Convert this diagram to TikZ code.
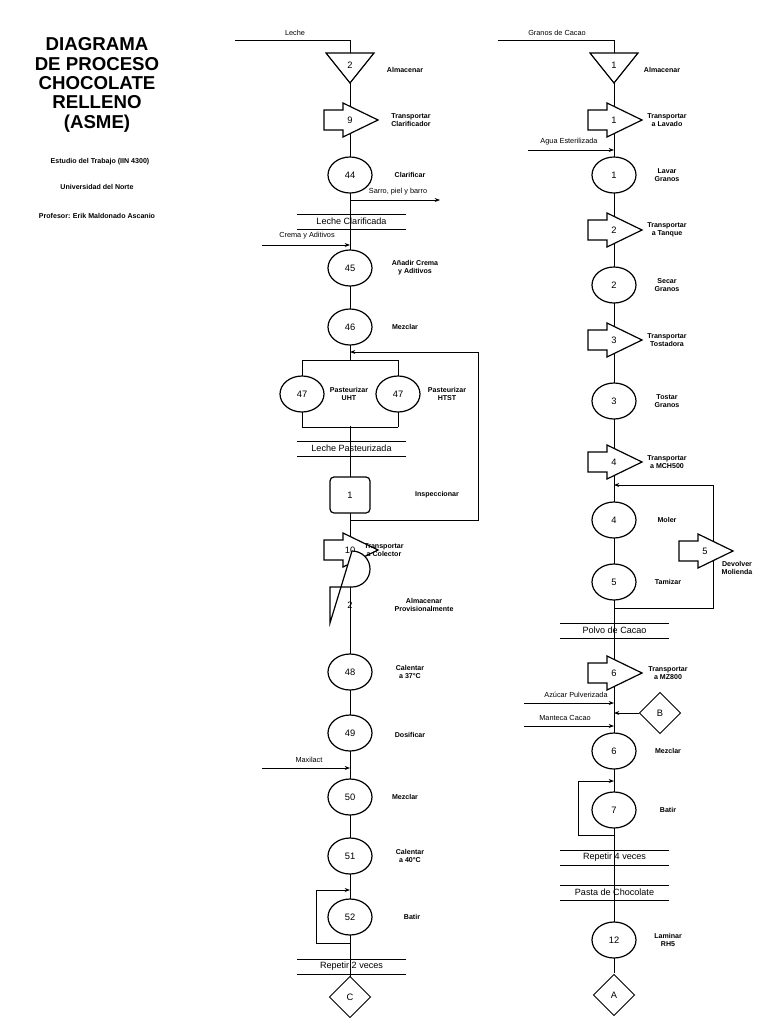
\documentclass[tikz,border=0pt]{standalone}
\usepackage{fontspec}
\setmainfont{Liberation Sans}
\usetikzlibrary{shapes.geometric,arrows.meta}
\tikzset{
 proc/.style={ellipse,draw,fill=white,line width=0.9pt,minimum width=33pt,minimum height=27pt,inner sep=0pt,font=\fontsize{7}{8}\selectfont},
 insp/.style={rectangle,rounded corners=3pt,draw,fill=white,line width=0.9pt,minimum width=30pt,minimum height=27pt,font=\fontsize{7}{8}\selectfont},
 dia/.style={diamond,draw,fill=white,line width=0.7pt,minimum width=31pt,minimum height=31pt,inner sep=0pt,font=\fontsize{7}{8}\selectfont},
 lbl/.style={font=\bfseries\fontsize{5.3}{6.2}\selectfont,align=center,inner sep=0pt},
 flow/.style={font=\fontsize{5.5}{6.5}\selectfont,inner sep=0pt},
 mat/.style={font=\fontsize{6.8}{8}\selectfont,inner sep=0pt},
 num/.style={font=\fontsize{7}{8}\selectfont,inner sep=0pt},
 ln/.style={line width=0.6pt},
 arr/.style={line width=0.6pt,-{Stealth[length=4pt,width=3pt]}},
}
\newcommand\Transp[4]{%
 \draw[line width=0.9pt,fill=white,shift={(#2,#3)}] (-26,-10) -- (-7,-10) -- (-7,-17) -- (28,0) -- (-7,17) -- (-7,10) -- (-26,10) -- cycle;
 \node[num] (#1) at (#2,#3) {#4};}
\newcommand\Store[4]{%
 \draw[line width=0.9pt,fill=white,shift={(#2,#3)}] (-24,-15) -- (24,-15) -- (0,15) -- cycle;
 \node[num] (#1) at (#2,#3-3) {#4};}
\newcommand\Matl[4]{%
 \draw[ln] (#1,#2) -- (#1+109,#2) (#1,#2+15) -- (#1+109,#2+15);
 \node[mat] (#3) at (#1+54.5,#2+7.5) {#4};}
\begin{document}
\begin{tikzpicture}[x=0.75pt,y=-0.75pt]
\useasboundingbox (0,0) rectangle (768,1024);
% title
\node[font=\bfseries\fontsize{14}{14.5}\selectfont,align=center] (title) at (97,85) {DIAGRAMA\\DE PROCESO\\CHOCOLATE\\RELLENO\\(ASME)};
\node[lbl] (t1) at (100,162) {Estudio del Trabajo (IIN 4300)};
\node[lbl] (t2) at (97,187) {Universidad del Norte};
\node[lbl] (t3) at (97,216) {Profesor: Erik Maldonado Ascanio};
% ===== left column
\coordinate (l0) at (235,40);
\coordinate (lc) at (350,40);
\coordinate (lend) at (350,977);
\draw[ln] (l0) -- (lc) -- (lend);
\node[flow] at (295,33) {Leche};
\Store{s2}{350}{68}{2}
\node[lbl] at (405,70) {Almacenar};
\Transp{t9}{350}{120}{9}
\node[lbl] at (411,120) {Transportar\\Clarificador};
\node[proc] (c44) at (350,175) {44};
\node[lbl] at (410,175) {Clarificar};
\coordinate (sb) at (350,200); \coordinate (se) at (440,200);
\draw[arr] (sb) -- (se);
\node[flow] at (398,192) {Sarro, piel y barro};
\Matl{297}{214}{m1}{Leche Clarificada}
\coordinate (ca0) at (262,245); \coordinate (ca1) at (350,245);
\draw[arr] (ca0) -- (ca1);
\node[flow] at (307,236) {Crema y Aditivos};
\node[proc] (c45) at (350,268) {45};
\node[lbl] at (415,268) {Añadir Crema\\y Aditivos};
\node[proc] (c46) at (350,327) {46};
\node[lbl] at (405,327) {Mezclar};
% split
\coordinate (sp1) at (302,360); \coordinate (sp2) at (398,360);
\coordinate (mg1) at (302,427); \coordinate (mg2) at (398,427);
\draw[ln] (sp1) -- (sp2) (mg1) -- (mg2) (sp1) -- (mg1) (sp2) -- (mg2);
\draw[fill=white,draw=none] (330,361) rectangle (370,426);
\node[proc] (c47a) at (302,394) {47};
\node[proc] (c47b) at (398,394) {47};
\node[lbl] at (349,394) {Pasteurizar\\UHT};
\node[lbl] at (447,394) {Pasteurizar\\HTST};
\Matl{297}{441}{m2}{Leche Pasteurizada}
\node[insp] (i1) at (350,495) {1};
\node[lbl] at (437,495) {Inspeccionar};
\coordinate (r0) at (350,520); \coordinate (r1) at (478,520);
\coordinate (r2) at (478,352); \coordinate (r3) at (350,352);
\draw[ln] (r0) -- (r1) -- (r2);
\draw[arr] (r2) -- (r3);
\Transp{t10}{350}{550}{10}
\node[lbl] at (384,550) {Transportar\\a Colector};
\draw[line width=0.9pt,fill=white] (330,587) -- (352,587) arc[start angle=90,end angle=-90,radius=18] -- (330,623) -- cycle;
\node[num] (d2) at (350,605) {2};
\node[lbl] at (424,605) {Almacenar\\Provisionalmente};
\node[proc] (c48) at (350,672) {48};
\node[lbl] at (410,672) {Calentar\\a 37°C};
\node[proc] (c49) at (350,733) {49};
\node[lbl] at (410,735) {Dosificar};
\coordinate (mx0) at (262,768); \coordinate (mx1) at (350,768);
\draw[arr] (mx0) -- (mx1);
\node[flow] at (309,760) {Maxilact};
\node[proc] (c50) at (350,797) {50};
\node[lbl] at (405,797) {Mezclar};
\node[proc] (c51) at (350,856) {51};
\node[lbl] at (410,856) {Calentar\\a 40°C};
\coordinate (b0) at (350,943); \coordinate (b1) at (316,943);
\coordinate (b2) at (316,890); \coordinate (b3) at (350,890);
\draw[ln] (b0) -- (b1) -- (b2); \draw[arr] (b2) -- (b3);
\node[proc] (c52) at (350,917) {52};
\node[lbl] at (412,917) {Batir};
\Matl{297}{959}{m3}{Repetir 2 veces}
\node[dia] (dC) at (350,997) {C};
% ===== right column
\coordinate (g0) at (498,40); \coordinate (gc) at (614,40); \coordinate (gend) at (614,973);
\draw[ln] (g0) -- (gc) -- (gend);
\node[flow] at (557,33) {Granos de Cacao};
\Store{s1}{614}{68}{1}
\node[lbl] at (662,70) {Almacenar};
\Transp{tr1}{614}{120}{1}
\node[lbl] at (667,120) {Transportar\\a Lavado};
\coordinate (ag0) at (528,150); \coordinate (ag1) at (614,150);
\draw[arr] (ag0) -- (ag1);
\node[flow] at (569,142) {Agua Esterilizada};
\node[proc] (k1) at (614,175) {1};
\node[lbl] at (667,175) {Lavar\\Granos};
\Transp{tr2}{614}{230}{2}
\node[lbl] at (667,230) {Transportar\\a Tanque};
\node[proc] (k2) at (614,285) {2};
\node[lbl] at (667,285) {Secar\\Granos};
\Transp{tr3}{614}{340}{3}
\node[lbl] at (667,340) {Transportar\\Tostadora};
\node[proc] (k3) at (614,401) {3};
\node[lbl] at (667,401) {Tostar\\Granos};
\Transp{tr4}{614}{462}{4}
\node[lbl] at (667,462) {Transportar\\a MCH500};
\coordinate (q0) at (614,608); \coordinate (q1) at (713,608);
\coordinate (q2) at (713,485); \coordinate (q3) at (614,485);
\draw[ln] (q0) -- (q1) -- (q2); \draw[arr] (q2) -- (q3);
\Transp{tr5}{705}{551}{5}
\node[lbl] at (737,568) {Devolver\\Molienda};
\node[proc] (k4) at (614,520) {4};
\node[lbl] at (667,520) {Moler};
\node[proc] (k5) at (614,582) {5};
\node[lbl] at (668,582) {Tamizar};
\Matl{560}{623}{m4}{Polvo de Cacao}
\Transp{tr6}{614}{673}{6}
\node[lbl] at (668,673) {Transportar\\a MZ800};
\coordinate (az0) at (524,703); \coordinate (az1) at (614,703);
\draw[arr] (az0) -- (az1);
\node[flow] at (576,695) {Azúcar Pulverizada};
\node[dia] (dB) at (660,713) {B};
\coordinate (bb) at (614,713);
\draw[arr] (dB.west) -- (bb);
\coordinate (mc0) at (524,726); \coordinate (mc1) at (614,726);
\draw[arr] (mc0) -- (mc1);
\node[flow] at (565,718) {Manteca Cacao};
\node[proc] (k6) at (614,751) {6};
\node[lbl] at (668,751) {Mezclar};
\coordinate (p0) at (614,835); \coordinate (p1) at (578,835);
\coordinate (p2) at (578,781); \coordinate (p3) at (614,781);
\draw[ln] (p0) -- (p1) -- (p2); \draw[arr] (p2) -- (p3);
\node[proc] (k7) at (614,810) {7};
\node[lbl] at (668,810) {Batir};
\Matl{560}{850}{m5}{Repetir 4 veces}
\Matl{560}{885}{m6}{Pasta de Chocolate}
\node[proc] (k12) at (614,940) {12};
\node[lbl] at (668,940) {Laminar\\RH5};
\node[dia] (dA) at (614,995) {A};
\end{tikzpicture}
\end{document}
